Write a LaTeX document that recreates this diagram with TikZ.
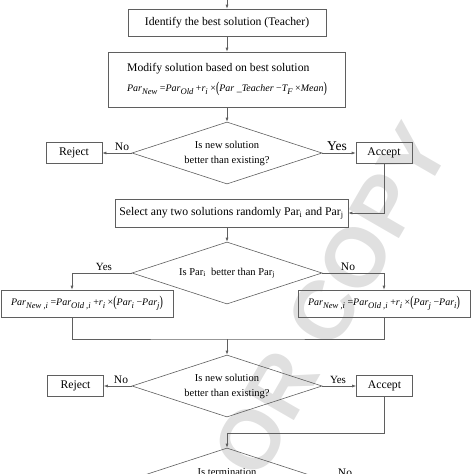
\documentclass[tikz,border=0pt]{standalone}
\usepackage{fontspec}
\setmainfont{Liberation Serif}
\newfontfamily\wmfont{Liberation Sans}
\usepackage{graphicx}
\usetikzlibrary{arrows.meta,shapes.geometric}
\definecolor{ln}{RGB}{95,95,95}
\newcommand{\sbs}[1]{\textsubscript{#1}}
\newcommand{\fsb}[1]{\raisebox{-3pt}{\fontsize{8.6}{9}\selectfont #1}}
\newcommand{\bigpar}[1]{\raisebox{-1pt}{\scalebox{1}[1.5]{\upshape#1}}}
\begin{document}
\begin{tikzpicture}[x=1pt,y=-1pt,
 box/.style={draw=ln, line width=0.6pt, inner sep=1pt, font=\fontsize{11.7}{14}\selectfont},
 dia/.style={draw=ln, line width=0.6pt, diamond, minimum width=190pt, minimum height=62pt, inner sep=0pt, aspect=3, align=center, font=\fontsize{10.5}{15}\selectfont},
 arr/.style={draw=ln, line width=0.6pt, -{Latex[length=4pt,width=3pt]}},
 lnk/.style={draw=ln, line width=0.6pt},
 lab/.style={inner sep=0pt, font=\fontsize{11.5}{13}\selectfont},
 frm/.style={font=\fontsize{10}{12}\selectfont\itshape}
]
\useasboundingbox (0,0) rectangle (474,474);
\clip (0,0) rectangle (474,474);
\node[rotate=60, text=black!12, font=\wmfont\bfseries\fontsize{84}{84}\selectfont, inner sep=0pt] (wm) at (331,300) {OR COPY};

\coordinate (top) at (227,0);
\node[box, minimum width=198pt, minimum height=27pt] (ident) at (227,22.5) {Identify the best solution (Teacher)};
\node[box, minimum width=237pt, minimum height=55pt, align=left] (mod) at (227,79.5)
 {Modify solution based on best solution\\[6pt]
 {\fontsize{10}{12}\selectfont\itshape Par\fsb{New} {\upshape=}Par\fsb{Old} {\upshape+}r\fsb{i} {\upshape×}\bigpar{(}Par \_Teacher {\upshape−}T\fsb{F} {\upshape×}Mean\bigpar{)}}};

\node[dia] (d1) at (227,153) {Is new solution\\better than existing?};
\node[box, minimum width=56pt, minimum height=21pt] (rej1) at (74,153) {Reject};
\node[box, minimum width=56pt, minimum height=21pt] (acc1) at (384,153) {Accept};
\node[box, minimum width=233pt, minimum height=28pt] (sel) at (231.5,213) {Select any two solutions randomly Par\sbs{i} and Par\sbs{j}};

\node[dia] (d2) at (227,273) {Is Par\sbs{i}\ \ better than Par\sbs{j}};
\node[box, minimum width=172pt, minimum height=27pt, frm] (fl) at (87,303.5)
 {Par\fsb{New ,i} {\upshape=}Par\fsb{Old ,i} {\upshape+}r\fsb{i} {\upshape×}\bigpar{(}Par\fsb{i} {\upshape−}Par\fsb{j}\bigpar{)}};
\node[box, minimum width=172pt, minimum height=27pt, frm] (fr) at (384,303.5)
 {Par\fsb{New ,i} {\upshape=}Par\fsb{Old ,i} {\upshape+}r\fsb{i} {\upshape×}\bigpar{(}Par\fsb{j} {\upshape−}Par\fsb{i}\bigpar{)}};

\node[dia] (d3) at (227,386) {Is new solution\\better than existing?};
\node[box, minimum width=56pt, minimum height=21pt] (rej2) at (75.5,386) {Reject};
\node[box, minimum width=56pt, minimum height=21pt] (acc2) at (384.5,386) {Accept};

\node[dia] (d4) at (227,479) {};
\node[lab, font=\fontsize{10.5}{15}\selectfont] (d4t) at (227,472) {Is termination};

\node[lab] (no1) at (122,147) {No};
\node[lab, font=\fontsize{13.5}{15}\selectfont] (yes1) at (337,146) {Yes};
\node[lab, font=\fontsize{11}{13}\selectfont] (yes2) at (104,267) {Yes};
\node[lab] (no2) at (348,267) {No};
\node[lab] (no3) at (121,380) {No};
\node[lab, font=\fontsize{11}{13}\selectfont] (yes3) at (338,380) {Yes};
\node[lab] (no4) at (345,473) {No};

\coordinate (xl) at (72,0);
\coordinate (j1) at (227,339);
\coordinate (j2) at (227,433);
\draw[arr] (top) -- (ident);
\draw[arr] (ident) -- (mod);
\draw[arr] (mod) -- (d1);
\draw[arr] (d1.west) -- (rej1.east);
\draw[arr] (d1.east) -- (acc1.west);
\draw[arr] (acc1.south) |- (sel.east);
\draw[arr] (d2.north |- sel.south) -- (d2.north);
\draw[arr] (d2.west) -| (fl.north -| xl);
\draw[arr] (d2.east) -| (fr.north);
\draw[lnk] (fl.south -| xl) |- (j1) -| (fr.south);
\draw[arr] (j1) -- (d3.north);
\draw[arr] (d3.west) -- (rej2.east);
\draw[arr] (d3.east) -- (acc2.west);
\draw[arr] (acc2.south) |- (j2) -- (d4.north);
\end{tikzpicture}
\end{document}
